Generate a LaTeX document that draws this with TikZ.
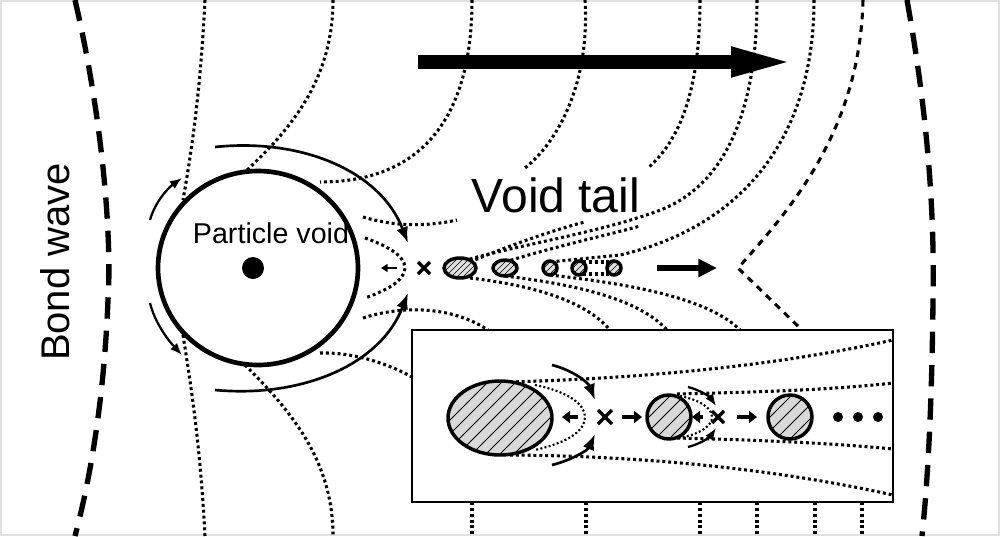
\documentclass[tikz,border=0pt]{standalone}
\usepackage{fontspec}
\setmainfont{Liberation Sans}
\usetikzlibrary{arrows.meta}
\begin{document}
\begin{tikzpicture}[x=0.75pt,y=-0.75pt,
  dot/.style={line width=2.3pt,dash pattern=on 2.2pt off 2.2pt},
  fdot/.style={line width=1.6pt,dash pattern=on 1.5pt off 1.7pt},
  bigdash/.style={line width=4pt,dash pattern=on 16pt off 9pt},
  meddash/.style={line width=2.3pt,dash pattern=on 5pt off 4.5pt},
  voidline/.style={line width=3.5pt},
  flow/.style={line width=2pt,-{Latex[length=12pt,width=9pt]}},
  sflow/.style={line width=1.7pt,-{Latex[length=9pt,width=7pt]}},
  push/.style={line width=3.5pt,-{Triangle[length=6pt,width=9pt]}},
  cross/.style={line width=2.6pt}]
\useasboundingbox (0,0) rectangle (1000,536);
\draw[black!12,line width=1pt] (1,1) rectangle (999,535);
% bond wave fronts
\draw[bigdash] (75,0) .. controls (103,120) and (112,240) .. (108,300) .. controls (104,400) and (90,480) .. (75,536);
\draw[bigdash] (907,0) .. controls (925,100) and (935,200) .. (933,300) .. controls (932,400) and (928,480) .. (922,536);
\node[rotate=90,font=\fontsize{30pt}{30pt}\selectfont] (bw) at (55,262) {Bond wave};
% main arrow
\draw[line width=10pt,-{Triangle[length=48pt,width=20pt]}] (418,62) -- (795,62);
\node[font=\fontsize{36pt}{36pt}\selectfont] (vt) at (556,195) {Void tail};
% field lines top
\draw[dot] (205,0) .. controls (200,100) and (190,160) .. (183,200);
\draw[dot] (333,0) .. controls (333,80) and (290,130) .. (245,172);
\draw[dot] (472,0) .. controls (472,120) and (420,182) .. (320,182);
\draw[dot] (585,0) .. controls (590,80) and (560,140) .. (525,168);
\draw[dot] (700,0) .. controls (700,90) and (680,140) .. (648,168);
\draw[dot] (757,0) .. controls (757,120) and (720,190) .. (655,212) .. controls (600,232) and (520,245) .. (470,259);
\draw[dot] (814,0) .. controls (814,150) and (730,230) .. (620,255) -- (550,262);
\draw[meddash] (863,0) .. controls (860,130) and (790,210) .. (738,268) -- (802,330);
\draw[dot] (363,217) .. controls (390,225) and (420,228) .. (457,220);
\draw[dot] (365,238) .. controls (385,245) and (405,255) .. (405,268) .. controls (405,281) and (385,291) .. (365,298);
\draw[dot] (505,262) .. controls (560,245) and (620,232) .. (640,226);
\draw[dot] (470,262) .. controls (510,245) and (560,228) .. (585,222);
\draw[dot] (583,262) -- (614,262);
% bottom
\draw[dot] (183,335) .. controls (190,380) and (200,440) .. (205,536);
\draw[dot] (245,365) .. controls (290,410) and (333,460) .. (333,536);
\draw[dot] (320,353) .. controls (350,352) and (385,362) .. (412,377);
\draw[dot] (363,318) .. controls (400,306) and (450,305) .. (488,330);
\draw[dot] (470,278) .. controls (530,285) and (585,300) .. (610,330);
\draw[dot] (505,276) .. controls (580,285) and (640,300) .. (667,330);
\draw[dot] (550,275) .. controls (640,285) and (710,300) .. (740,330);
\draw[dot] (583,274) -- (614,274);
\foreach \xx in {472,586,700,757,815}{\draw[dot] (\xx,502) -- (\xx,536);}
\draw[dot] (862,502) -- (862,536);
% particle void
\draw[voidline,fill=white] (258,268) ellipse [x radius=100, y radius=97];
\fill (253,268) circle [radius=11];
\node[font=\fontsize{21.5pt}{22pt}\selectfont] (pv) at (271,233) {Particle void};
% flow arrows
\draw[flow] (215,147) .. controls (300,138) and (380,170) .. (408,243);
\draw[flow] (215,390) .. controls (300,398) and (380,366) .. (408,293);
\draw[sflow] (150,220) .. controls (155,202) and (168,188) .. (182,178);
\draw[sflow] (150,303) .. controls (155,323) and (168,340) .. (182,355);
\draw[line width=2pt,-{Triangle[length=5pt,width=6pt]}] (397,268) -- (381,268);
\draw[cross] (418,262) -- (430,274) (418,274) -- (430,262);
% small voids
\foreach \cx/\rx/\ry in {460/16/10,505/12/8,550/7/7,579/7/7,614/7/7}{
  \begin{scope}
    \clip (\cx,268) ellipse [x radius=\rx, y radius=\ry];
    \fill[black!12] (\cx,268) ellipse [x radius=\rx, y radius=\ry];
    \foreach \k in {-30,-24,...,30}{\draw[line width=0.5pt] (\cx+\k-15,283) -- (\cx+\k+15,253);}
  \end{scope}
  \draw[line width=2.6pt] (\cx,268) ellipse [x radius=\rx, y radius=\ry];
}
\draw[line width=5pt,-{Triangle[length=14pt,width=13pt]}] (657,268) -- (717,268);
% inset
\draw[line width=1.4pt,fill=white] (412,330) rectangle (893,502);
\draw[dot] (510,382) .. controls (650,378) and (780,365) .. (893,340);
\draw[dot] (677,394) .. controls (760,392) and (830,390) .. (893,383);
\draw[dot] (677,438) .. controls (760,440) and (830,443) .. (893,449);
\draw[dot] (510,455) .. controls (650,456) and (780,470) .. (893,495);
\draw[fdot] (535,385) .. controls (570,392) and (585,405) .. (585,417) .. controls (585,430) and (570,442) .. (535,450);
\draw[fdot] (680,396) .. controls (700,400) and (712,408) .. (712,417) .. controls (712,426) and (700,434) .. (680,438);
\foreach \cx/\cy/\rx/\ry in {500/418/52/37,669/417/22/22,790/417/22/22}{
  \begin{scope}
    \clip (\cx,\cy) ellipse [x radius=\rx, y radius=\ry];
    \fill[black!15] (\cx,\cy) ellipse [x radius=\rx, y radius=\ry];
    \foreach \k in {-90,-76,...,90}{\draw[line width=0.7pt] (\cx+\k-45,\cy+45) -- (\cx+\k+45,\cy-45);}
  \end{scope}
  \draw[line width=2.6pt] (\cx,\cy) ellipse [x radius=\rx, y radius=\ry];
}
\foreach \xx in {838,858,878}{\fill (\xx,417) circle [radius=5];}
\draw[cross] (598,410) -- (612,424) (598,424) -- (612,410);
\draw[cross] (712,411) -- (724,423) (712,423) -- (724,411);
\draw[push] (578,417) -- (562,417);
\draw[push] (622,417) -- (642,417);
\draw[push] (703,417) -- (692,417);
\draw[push] (737,417) -- (757,417);
\draw[flow] (552,365) .. controls (572,370) and (588,382) .. (595,400);
\draw[flow] (552,465) .. controls (572,460) and (588,450) .. (595,434);
\draw[sflow] (688,387) .. controls (700,390) and (710,397) .. (716,406);
\draw[sflow] (688,447) .. controls (700,444) and (710,437) .. (716,428);
\end{tikzpicture}
\end{document}
